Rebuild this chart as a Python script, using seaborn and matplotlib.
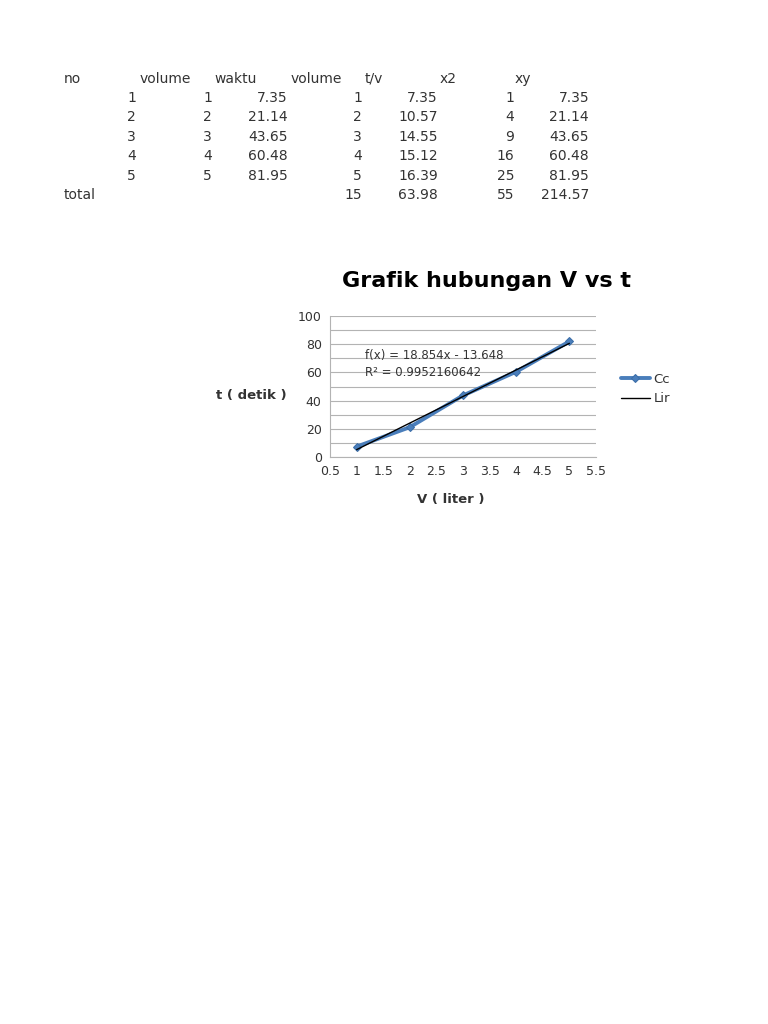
import numpy as np
import pandas as pd
import matplotlib
matplotlib.use("Agg")
import matplotlib.pyplot as plt
import seaborn as sns
from matplotlib.ticker import MultipleLocator

# data from the sheet
no = [1, 2, 3, 4, 5]
volume = [1, 2, 3, 4, 5]
waktu = [7.35, 21.14, 43.65, 60.48, 81.95]
t_per_v = [7.35, 10.57, 14.55, 15.12, 16.39]
x2 = [1, 4, 9, 16, 25]
xy = [7.35, 21.14, 43.65, 60.48, 81.95]
totals = {"volume": 15, "t/v": 63.98, "x2": 55, "xy": 214.57}
headers = ["no", "volume", "waktu", "volume", "t/v", "x2", "xy"]
eq_text = "f(x) = 18.854x - 13.648"
r2_text = "R² = 0.9952160642"

sns.set_style("white")
plt.rcParams['font.family'] = ['DejaVu Sans']

W, H = 768, 1024
fig = plt.figure(figsize=(W / 100, H / 100), dpi=100)

def px(x, y):
    return x / W, 1 - y / H

tc = "#333333"
fs = 10

# header row
head_x = [64, 165, 236, 316, 374, 448, 523]
for i, h in enumerate(headers):
    ha = "left" if i == 0 else "center"
    fig.text(*px(head_x[i], 79), h, ha=ha, va="center", fontsize=fs, color=tc)

# data rows (right aligned columns)
col_right = [136, 212, 288, 362, 438, 514, 589]
row_y = [98, 117, 137, 156, 176]
for r in range(5):
    vals = [str(no[r]), str(volume[r]), f"{waktu[r]:.2f}", str(volume[r]),
            f"{t_per_v[r]:.2f}", str(x2[r]), f"{xy[r]:.2f}"]
    for c, v in enumerate(vals):
        fig.text(*px(col_right[c], row_y[r]), v, ha="right", va="center",
                 fontsize=fs, color=tc)

fig.text(*px(64, 195), "total", ha="left", va="center", fontsize=fs, color=tc)
fig.text(*px(col_right[3], 195), str(totals["volume"]), ha="right", va="center", fontsize=fs, color=tc)
fig.text(*px(col_right[4], 195), f"{totals['t/v']:.2f}", ha="right", va="center", fontsize=fs, color=tc)
fig.text(*px(col_right[5], 195), str(totals["x2"]), ha="right", va="center", fontsize=fs, color=tc)
fig.text(*px(col_right[6], 195), f"{totals['xy']:.2f}", ha="right", va="center", fontsize=fs, color=tc)

# chart
ax = fig.add_axes([330 / W, 1 - 457 / H, 266 / W, 141 / H])
df = pd.DataFrame({"V": volume, "t": waktu})
sns.lineplot(data=df, x="V", y="t", ax=ax, color="#4a7ebb", linewidth=2.8,
             marker="D", markersize=4.5, markeredgecolor="#3d6ea8", label="Cc")

slope, intercept = np.polyfit(volume, waktu, 1)
xs = np.array([volume[0], volume[-1]])
ax.plot(xs, slope * xs + intercept, color="black", linewidth=1.0, label="Lir")

ax.set_xlim(0.5, 5.5)
ax.set_ylim(0, 100)
ax.yaxis.set_major_locator(MultipleLocator(20))
ax.yaxis.set_minor_locator(MultipleLocator(10))
ax.set_xticks(np.arange(0.5, 5.51, 0.5))
ax.set_xticklabels([f"{v:g}" for v in np.arange(0.5, 5.51, 0.5)])
ax.grid(True, which="both", axis="y", color="#b3b3b3", linewidth=0.8)
ax.set_axisbelow(True)
for s in ["top", "right"]:
    ax.spines[s].set_visible(False)
ax.spines["left"].set_color("#b3b3b3")
ax.spines["bottom"].set_color("#b3b3b3")
ax.tick_params(axis="both", which="major", direction="out", length=4,
               color="#b3b3b3", labelsize=9, labelcolor=tc, pad=2)
ax.tick_params(axis="y", which="minor", length=0)
ax.set_xlabel("")
ax.set_ylabel("")
ax.get_legend().remove()

ax.text(1.16, 72, eq_text, fontsize=8.5, color=tc, ha="left", va="center")
ax.text(1.16, 60, r2_text, fontsize=8.5, color=tc, ha="left", va="center")

fig.text(*px(486, 281), "Grafik hubungan V vs t", ha="center", va="center",
         fontsize=16, fontweight="bold", color="black")
fig.text(*px(251, 395), "t ( detik )", ha="center", va="center",
         fontsize=9.5, fontweight="bold", color=tc)
fig.text(*px(451, 500), "V ( liter )", ha="center", va="center",
         fontsize=9.5, fontweight="bold", color=tc)

handles, labels = ax.get_legend_handles_labels()
fig.legend(handles, labels, loc="center left", bbox_to_anchor=px(614, 389),
           frameon=False, fontsize=9.5, handlelength=2.2, labelspacing=0.5,
           borderpad=0, handletextpad=0.3, labelcolor=tc)

fig.savefig("out.png", dpi=100, facecolor="white")
